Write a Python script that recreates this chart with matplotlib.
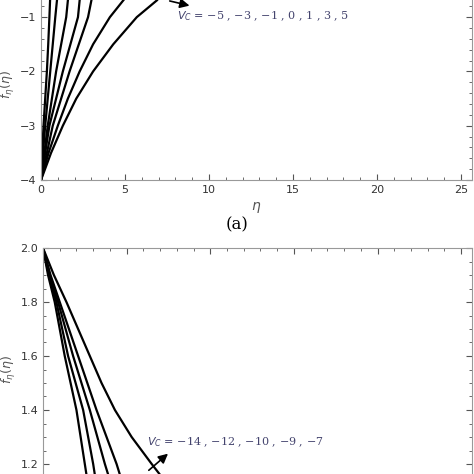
import matplotlib
matplotlib.use("Agg")
from matplotlib import pyplot as plt
from matplotlib.ticker import MultipleLocator

# top panel: f'(eta) curves for V_C = -5, -3, -1, 0, 1, 3, 5
top_y = [-4.0, -3.5, -3.0, -2.5, -2.0, -1.5, -1.0, -0.69]
top_x = [
    [0.0, 0.07, 0.15, 0.25, 0.35, 0.43, 0.5, 0.54],
    [0.0, 0.12, 0.25, 0.4, 0.55, 0.7, 0.85, 0.95],
    [0.0, 0.2, 0.4, 0.65, 0.9, 1.2, 1.5, 1.6],
    [0.0, 0.25, 0.5, 0.9, 1.3, 1.75, 2.2, 2.3],
    [0.0, 0.35, 0.7, 1.2, 1.7, 2.25, 2.8, 3.0],
    [0.0, 0.45, 1.0, 1.6, 2.3, 3.1, 4.1, 4.9],
    [0.0, 0.6, 1.3, 2.1, 3.1, 4.3, 5.7, 6.9],
]

# bottom panel: V_C = -14, -12, -10, -9, -7
bot_y = [2.0, 1.9, 1.8, 1.7, 1.6, 1.5, 1.4, 1.3, 1.2, 1.16]
bot_x = [
    [0.0, 0.3, 0.7, 1.0, 1.3, 1.65, 2.0, 2.25, 2.5, 2.6],
    [0.0, 0.35, 0.8, 1.15, 1.5, 1.95, 2.4, 2.7, 3.0, 3.1],
    [0.0, 0.4, 0.9, 1.35, 1.8, 2.3, 2.8, 3.25, 3.7, 3.9],
    [0.0, 0.45, 1.0, 1.55, 2.1, 2.65, 3.2, 3.8, 4.4, 4.6],
    [0.0, 0.65, 1.4, 2.1, 2.8, 3.5, 4.3, 5.3, 6.5, 7.0],
]

gray = "#555555"
txt = "#44446e"

fig = plt.figure(figsize=(4.74, 4.74), dpi=100)


def style(ax):
    ax.tick_params(which="both", direction="in", top=True, right=True,
                   colors=gray, labelsize=8, labelcolor="#333333")
    ax.tick_params(which="major", length=4)
    ax.tick_params(which="minor", length=2)
    for s in ax.spines.values():
        s.set_color("#999999")
    ax.xaxis.set_major_locator(MultipleLocator(5))
    ax.xaxis.set_minor_locator(MultipleLocator(1))


ax1 = fig.add_axes([41 / 474, 1 - 180 / 474, 431 / 474, 190 / 474])
for xs in top_x:
    ax1.plot(xs, top_y, color="black", lw=1.6)
ax1.set_xlim(0, 25.65)
ax1.set_ylim(-4, -0.5)
ax1.yaxis.set_major_locator(MultipleLocator(1))
ax1.yaxis.set_minor_locator(MultipleLocator(0.2))
style(ax1)
ax1.set_xlabel(r"$\eta$", color=gray, fontsize=10)
ax1.set_ylabel(r"$f_\eta(\eta)$", color=gray, fontsize=9, labelpad=2)
ax1.annotate("", xy=(9.0, -0.8), xytext=(7.5, -0.69),
             arrowprops=dict(arrowstyle="-|>", color="black", lw=1.2,
                             mutation_scale=14))
ax1.text(8.1, -0.98, r"$V_C$ = −5 , −3 , −1 , 0 , 1 , 3 , 5",
         color=txt, fontsize=8, family="DejaVu Serif", va="center")
fig.text(0.5, 1 - 225 / 474, "(a)", ha="center", va="center",
         fontsize=12, family="DejaVu Serif")

ax2 = fig.add_axes([43 / 474, 1 - 491 / 474, 429 / 474, 243 / 474])
for xs in bot_x:
    ax2.plot(xs, bot_y, color="black", lw=1.6)
ax2.set_xlim(0, 25.65)
ax2.set_ylim(1.1, 2.0)
ax2.yaxis.set_major_locator(MultipleLocator(0.2))
ax2.yaxis.set_minor_locator(MultipleLocator(0.05))
ax2.yaxis.set_major_formatter(lambda v, p: f"{v:.1f}")
style(ax2)
ax2.tick_params(labelbottom=False)
ax2.set_ylabel(r"$f_\eta(\eta)$", color=gray, fontsize=9, labelpad=2)
ax2.annotate("", xy=(7.6, 1.245), xytext=(6.2, 1.17),
             arrowprops=dict(arrowstyle="-|>", color="black", lw=1.2,
                             mutation_scale=14))
ax2.text(6.2, 1.28, r"$V_C$ = −14 , −12 , −10 , −9 , −7",
         color=txt, fontsize=8, family="DejaVu Serif", va="center")

fig.savefig("out.png", dpi=100)
